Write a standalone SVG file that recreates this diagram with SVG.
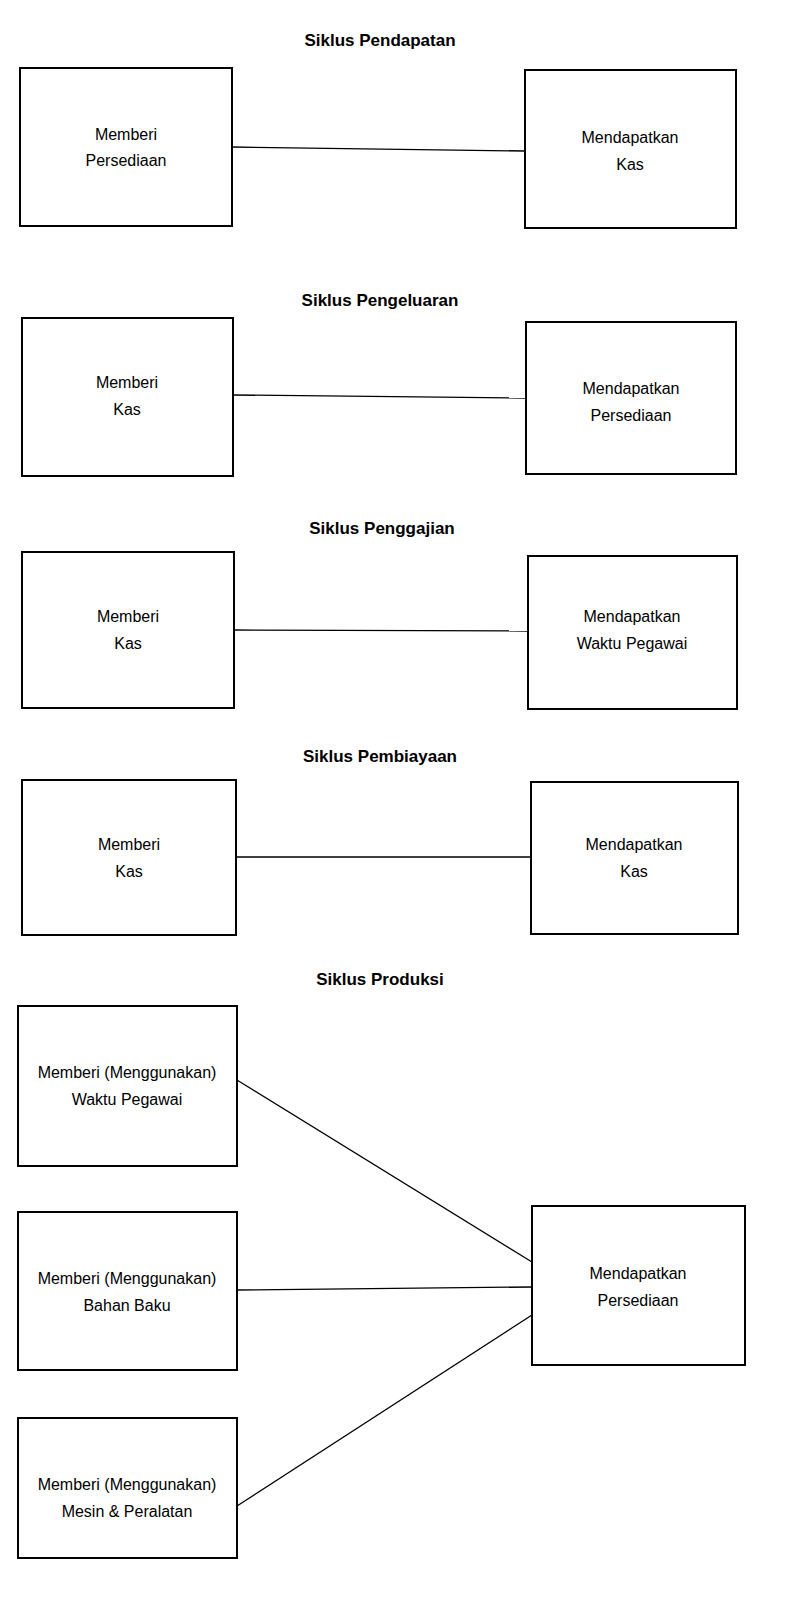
<svg xmlns="http://www.w3.org/2000/svg" width="791" height="1600" viewBox="0 0 791 1600">
<style>
.b{fill:#fff;stroke:#000;stroke-width:2}
line{stroke:#000;stroke-width:1.3}
.t{font-family:"Liberation Sans",Arial,sans-serif;font-size:17px;font-weight:bold;text-anchor:middle}
.n{font-family:"Liberation Sans",Arial,sans-serif;font-size:16px;text-anchor:middle}
</style>
<rect width="791" height="1600" fill="#fff"/>
<text class="t" x="380" y="46">Siklus Pendapatan</text>
<text class="t" x="380" y="306">Siklus Pengeluaran</text>
<text class="t" x="382" y="534">Siklus Penggajian</text>
<text class="t" x="380" y="762">Siklus Pembiayaan</text>
<text class="t" x="380" y="985">Siklus Produksi</text>
<g id="connectors">
<line x1="232" y1="147" x2="525" y2="151"/>
<line x1="233" y1="395" x2="526" y2="398"/>
<line x1="234" y1="630" x2="528" y2="631"/>
<line x1="236" y1="857" x2="531" y2="857"/>
<line x1="237" y1="1080" x2="532" y2="1262"/>
<line x1="237" y1="1290" x2="532" y2="1287"/>
<line x1="237" y1="1506" x2="532" y2="1315"/>
</g>
<g id="n1"><rect class="b" x="20" y="68" width="212" height="158"/><text class="n" x="126" y="140">Memberi</text><text class="n" x="126" y="166">Persediaan</text></g>
<g id="n2"><rect class="b" x="525" y="70" width="211" height="158"/><text class="n" x="630" y="143">Mendapatkan</text><text class="n" x="630" y="170">Kas</text></g>
<g id="n3"><rect class="b" x="22" y="318" width="211" height="158"/><text class="n" x="127" y="388">Memberi</text><text class="n" x="127" y="415">Kas</text></g>
<g id="n4"><rect class="b" x="526" y="322" width="210" height="152"/><text class="n" x="631" y="394">Mendapatkan</text><text class="n" x="631" y="421">Persediaan</text></g>
<g id="n5"><rect class="b" x="22" y="552" width="212" height="156"/><text class="n" x="128" y="622">Memberi</text><text class="n" x="128" y="649">Kas</text></g>
<g id="n6"><rect class="b" x="528" y="556" width="209" height="153"/><text class="n" x="632" y="622">Mendapatkan</text><text class="n" x="632" y="649">Waktu Pegawai</text></g>
<g id="n7"><rect class="b" x="22" y="780" width="214" height="155"/><text class="n" x="129" y="850">Memberi</text><text class="n" x="129" y="877">Kas</text></g>
<g id="n8"><rect class="b" x="531" y="782" width="207" height="152"/><text class="n" x="634" y="850">Mendapatkan</text><text class="n" x="634" y="877">Kas</text></g>
<g id="n9"><rect class="b" x="18" y="1006" width="219" height="160"/><text class="n" x="127" y="1078">Memberi (Menggunakan)</text><text class="n" x="127" y="1105">Waktu Pegawai</text></g>
<g id="n10"><rect class="b" x="18" y="1212" width="219" height="158"/><text class="n" x="127" y="1284">Memberi (Menggunakan)</text><text class="n" x="127" y="1311">Bahan Baku</text></g>
<g id="n11"><rect class="b" x="18" y="1418" width="219" height="140"/><text class="n" x="127" y="1490">Memberi (Menggunakan)</text><text class="n" x="127" y="1517">Mesin &amp; Peralatan</text></g>
<g id="n12"><rect class="b" x="532" y="1206" width="213" height="159"/><text class="n" x="638" y="1279">Mendapatkan</text><text class="n" x="638" y="1306">Persediaan</text></g>
</svg>
